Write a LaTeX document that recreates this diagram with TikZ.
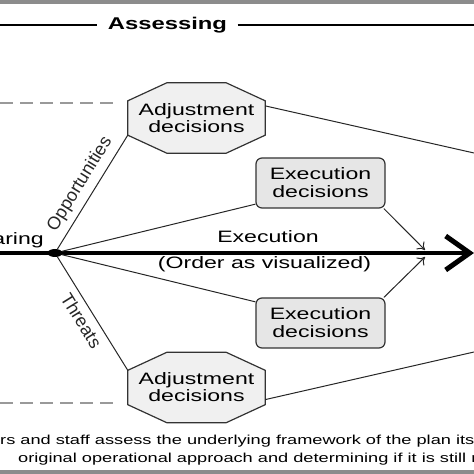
\documentclass[tikz,border=0pt]{standalone}
\usepackage{fontspec}
\setmainfont{Liberation Sans}[FakeStretch=1.4]
\newfontfamily\rotfont{Liberation Sans}
\usetikzlibrary{shapes.geometric,arrows.meta,calc,backgrounds}
\definecolor{bargray}{HTML}{8C8C8C}
\definecolor{octfill}{HTML}{F0F0F0}
\definecolor{boxfill}{HTML}{E6E6E6}
\definecolor{edgegray}{HTML}{333333}
\definecolor{dashgray}{HTML}{999999}
\tikzset{
  adjbox/.style={rectangle, minimum width=137pt, minimum height=70pt,
    inner sep=0pt, align=center, font=\fontsize{16.5}{17}\selectfont},
  octagon/.style={draw=edgegray, line width=1.2pt, fill=octfill},
  execbox/.style={rectangle, rounded corners=6pt, draw=edgegray, line width=1.2pt, fill=boxfill,
    minimum width=129pt, minimum height=50pt, inner sep=0pt, align=center,
    font=\fontsize{16.5}{18}\selectfont},
  heading/.style={font=\fontsize{17}{20}\bfseries\selectfont, inner xsep=10.5pt, inner ysep=0pt},
  headline/.style={line width=2.5pt},
  guide/.style={dashgray, line width=1.2pt, dash pattern=on 13pt off 7pt},
  mainarrow/.style={line width=3.5pt, -{Straight Barb[length=24pt,width=34pt,line width'=5pt]}},
  link/.style={line width=1pt, black!85},
  feed/.style={link, -{To[length=7pt,width=11pt]}},
  dot/.style={ellipse, fill=black, minimum width=15pt, minimum height=8pt, inner sep=0pt},
  flowlbl/.style={font=\fontsize{16.5}{18}\selectfont, inner sep=0pt},
  sidelbl/.style={font=\rotfont\fontsize{18}{20}\selectfont, sloped, inner sep=2pt},
  caption/.style={font=\fontsize{13}{15}\selectfont, inner sep=0pt}
}
\begin{document}
\begin{tikzpicture}[x=1pt,y=1pt]
\useasboundingbox (0,0) rectangle (474,474);
\clip (0,0) rectangle (474,474);

% frame bars
\fill[bargray] (0,470) rectangle (474,474);
\fill[bargray] (0,0) rectangle (474,4);

% assessing heading
\coordinate (asL) at (0,449);
\coordinate (asR) at (474,449);
\node[heading] (assess) at (167.5,449) {Assessing};
\draw[headline] (asL) -- (asL -| assess.west);
\draw[headline] (assess.east) -- (asR);

% dashed guides
\coordinate (gTopA) at (0,371);
\coordinate (gTopB) at (115,371);
\coordinate (gBotA) at (0,71);
\coordinate (gBotB) at (115,71);
\draw[guide] (gTopA) -- (gTopB);
\draw[guide] (gBotA) -- (gBotB);

% main execution arrow
\coordinate (mainA) at (0,221);
\coordinate (mainB) at (474,221);
\draw[mainarrow] (mainA) -- (mainB);
\node[flowlbl, anchor=base] (execLbl) at (268,231) {Execution};
\node[flowlbl, anchor=base] (orderLbl) at (264.5,205) {(Order as visualized)};
\node[flowlbl, anchor=base east] (prepLbl) at (44,229) {Preparing};

% decisions
\node[adjbox] (adjTop) at (196.5,356) {Adjustment\\decisions};
\node[adjbox] (adjBot) at (196.5,86.5) {Adjustment\\decisions};
\node[execbox] (execTop) at (320.5,291) {Execution\\decisions};
\node[execbox] (execBot) at (320.5,151) {Execution\\decisions};
\node[dot] (prep) at (55,221) {};

% octagon outlines behind the adjustment texts
\begin{scope}[on background layer]
\foreach \n in {adjTop,adjBot}
  \draw[octagon] ($(\n.north west)+(39,0)$) -- ($(\n.north east)+(-39,0)$)
    -- ($(\n.north east)+(0,-18)$) -- ($(\n.south east)+(0,18)$)
    -- ($(\n.south east)+(-39,0)$) -- ($(\n.south west)+(39,0)$)
    -- ($(\n.south west)+(0,18)$) -- ($(\n.north west)+(0,-18)$) -- cycle;
\end{scope}

% links
\coordinate (outTop) at (474,321);
\coordinate (outBot) at (474,122);
\coordinate (hitTop) at (425,224);
\coordinate (hitBot) at (425,217);
\draw[link] (prep) -- (adjTop.194) node[sidelbl, midway, above=4pt] {Opportunities};
\draw[link] (prep) -- (adjBot.166) node[sidelbl, midway, below=4pt] {Threats};
\draw[link] (prep) -- (execTop.198);
\draw[link] (prep) -- (execBot.162);
\draw[link] (adjTop.10) -- (outTop);
\draw[link] (adjBot.350) -- (outBot);
\draw[feed] (execTop.338) -- (hitTop);
\draw[feed] (execBot.22) -- (hitBot);

% caption
\node[caption, anchor=base west] (capA) at (0,29) {rs and staff assess the underlying framework of the plan its};
\node[caption, anchor=base west] (capB) at (18,12) {original operational approach and determining if it is still re};
\end{tikzpicture}
\end{document}
